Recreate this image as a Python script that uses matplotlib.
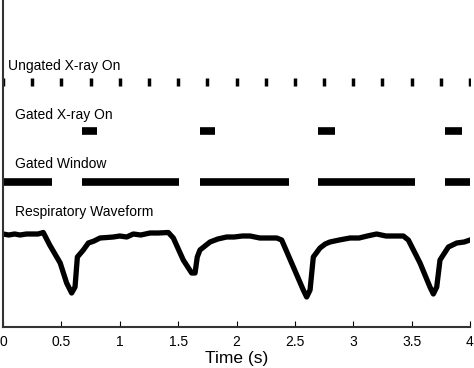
import numpy as np
import matplotlib
matplotlib.use("Agg")
import matplotlib.pyplot as plt

plt.rcParams['font.family'] = ['Liberation Sans', 'DejaVu Sans']

# ungated x-ray pulses every 0.25 s
ungated_t = [0, 0.25, 0.5, 0.75, 1.0, 1.25, 1.5, 1.75, 2.0, 2.25, 2.5, 2.75,
             3.0, 3.25, 3.5, 3.75, 4.0]
# gated x-ray on intervals (start, end)
gated_on_start = [0.68, 1.69, 2.70, 3.79]
gated_on_end = [0.805, 1.82, 2.84, 3.93]
# gated window intervals
window_start = [0.0, 0.68, 1.69, 2.70, 3.79]
window_end = [0.42, 1.51, 2.45, 3.53, 4.0]

# respiratory waveform (time, amplitude)
resp_t = [0.0, 0.05, 0.10, 0.146, 0.20, 0.248, 0.30, 0.345, 0.40, 0.49, 0.545,
          0.588, 0.617, 0.637, 0.688, 0.731, 0.78, 0.831, 0.89, 0.945, 1.0,
          1.06, 1.116, 1.18, 1.259, 1.33, 1.416, 1.459, 1.544, 1.616, 1.645,
          1.664, 1.687, 1.73, 1.773, 1.84, 1.916, 1.98, 2.05, 2.116, 2.2,
          2.28, 2.344, 2.387, 2.487, 2.572, 2.601, 2.63, 2.658, 2.715, 2.76,
          2.80, 2.88, 2.972, 3.05, 3.12, 3.20, 3.28, 3.36, 3.429, 3.472,
          3.572, 3.657, 3.686, 3.715, 3.743, 3.815, 3.886, 3.95, 4.0]
resp_y = [93, 92, 93, 92, 93, 93, 93, 94.5, 82, 64, 44, 34, 40, 70, 77, 84,
          86, 89, 89.5, 90, 91, 90, 93, 92, 94, 94, 94.5, 89, 67, 54, 54, 70,
          77, 81, 85, 88, 90, 90, 91, 91, 89, 89, 89, 87, 60, 37, 30, 37, 70,
          79, 83, 85, 87, 89, 89, 91, 93, 91, 91, 91, 87, 64, 40, 33, 40, 67,
          80, 84, 85, 87]

# row heights
row_ungated = 245
row_gated = 196
row_window = 145

fig = plt.figure(figsize=(4.74, 3.68), dpi=100)
ax = fig.add_axes([3 / 474, 41 / 368, 467 / 474, 327 / 368])

ax.plot(ungated_t, [row_ungated] * len(ungated_t), linestyle='none',
        marker='|', markersize=6, markeredgewidth=2.5, color='black')
ax.hlines([row_gated] * len(gated_on_start), gated_on_start, gated_on_end,
          color='black', linewidth=5.5)
ax.hlines([row_window] * len(window_start), window_start, window_end,
          color='black', linewidth=5.5)
ax.plot(resp_t, resp_y, color='black', linewidth=3.8, solid_joinstyle='round')

fs = 10
ax.text(0.04, 261, "Ungated X-ray On", fontsize=fs, va='center')
ax.text(0.10, 212, "Gated X-ray On", fontsize=fs, va='center')
ax.text(0.10, 163, "Gated Window", fontsize=fs, va='center')
ax.text(0.10, 115, "Respiratory Waveform", fontsize=fs, va='center')

ax.set_xlim(0, 4)
ax.set_ylim(0, 327)
ax.set_yticks([])
ax.set_xticks([0, 0.5, 1, 1.5, 2, 2.5, 3, 3.5, 4])
ax.set_xticklabels(['0', '0.5', '1', '1.5', '2', '2.5', '3', '3.5', '4'])
ax.tick_params(axis='x', direction='in', length=4, labelsize=10, pad=6)
ax.set_xlabel("Time (s)", fontsize=12.5, labelpad=1)
ax.spines['top'].set_visible(False)
ax.spines['right'].set_visible(False)
for s in ['left', 'bottom']:
    ax.spines[s].set_linewidth(1.5)
    ax.spines[s].set_color('#333333')

fig.savefig("out.png", dpi=100)
